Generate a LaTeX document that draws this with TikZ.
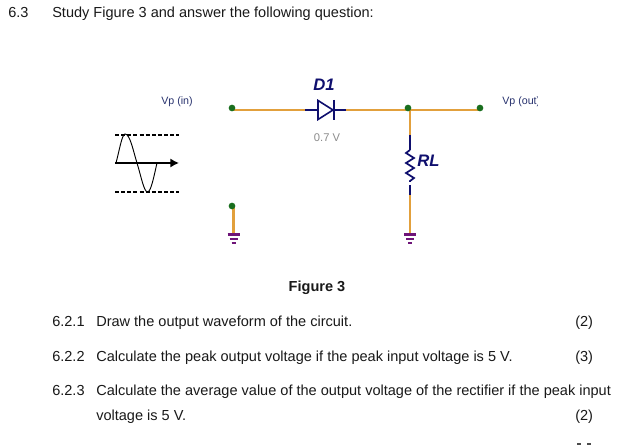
\documentclass[tikz,border=0pt]{standalone}
\usepackage{fontspec}
\setmainfont{Liberation Sans}
\usetikzlibrary{arrows.meta}
\definecolor{wirecol}{RGB}{226,160,60}
\definecolor{dotcol}{RGB}{25,110,30}
\definecolor{partcol}{RGB}{15,15,110}
\definecolor{gndcol}{RGB}{110,20,120}
\definecolor{labcol}{RGB}{40,50,110}
\tikzset{
  txt/.style={anchor=base west,inner sep=0pt,font=\fontsize{10.9pt}{12pt}\selectfont,text=black!90},
  smalllab/.style={inner sep=0pt,font=\fontsize{8pt}{10pt}\selectfont,text=labcol},
  partlab/.style={inner sep=0pt,font=\fontsize{12.5pt}{14pt}\selectfont\bfseries\itshape,text=partcol},
  wire/.style={draw=wirecol,line width=2.2pt},
  part/.style={draw=partcol,line width=1.8pt},
  termdot/.style={circle,fill=dotcol,inner sep=0pt,minimum size=5pt},
  gndbar/.style={draw=gndcol,line width=1.6pt},
  dashline/.style={draw=black,line width=1.2pt,dash pattern=on 3pt off 1.6pt}
}
\begin{document}
\begin{tikzpicture}[x=0.75pt,y=-0.75pt]
\useasboundingbox (0,0) rectangle (626,445);
\fill[white] (0,0) rectangle (626,445);
% text
\node[txt] (n63) at (8,17.5) {6.3};
\node[txt] (q) at (52,17.5) {Study Figure 3 and answer the following question:};
\node[txt,anchor=base,font=\fontsize{10.9pt}{12pt}\selectfont\bfseries] (fig) at (317,291.5) {Figure 3};
\node[txt] (a1) at (52,326.7) {6.2.1};
\node[txt] (t1) at (96,326.7) {Draw the output waveform of the circuit.};
\node[txt] (m1) at (575,326.7) {(2)};
\node[txt] (a2) at (52,361.5) {6.2.2};
\node[txt] (t2) at (96,361.5) {Calculate the peak output voltage if the peak input voltage is 5 V.};
\node[txt] (m2) at (575,361.5) {(3)};
\node[txt] (a3) at (52,395.5) {6.2.3};
\node[txt] (t3) at (96,395.5) {Calculate the average value of the output voltage of the rectifier if the peak input};
\node[txt] (t3b) at (96,420.5) {voltage is 5 V.};
\node[txt] (m3) at (575,420.5) {(2)};
% terminals
\coordinate (in) at (232,108);
\coordinate (j) at (408,108);
\coordinate (out) at (480,108);
\coordinate (g0) at (232,206);
\coordinate (da) at (305,110);
\coordinate (dc) at (346,110);
\coordinate (ra) at (410,135);
\coordinate (rb) at (410,195);
\coordinate (g1) at (233.5,233);
\coordinate (g2) at (410,233);
% wires
\draw[wire] (in |- da) -- (da);
\draw[wire] (dc) -- (out |- dc);
\draw[wire] (ra |- dc) -- (ra);
\draw[wire] (rb) -- (g2);
\draw[wire,line width=1.6pt] (g1 |- g0) -- (g1);
\node[termdot] (nin) at (in) {};
\node[termdot] (nj) at (j) {};
\node[termdot] (nout) at (out) {};
\node[termdot] (ng) at (g0) {};
% diode
\draw[part] (da) -- (318,110);
\draw[part,line width=1.2pt,fill=white] (318,100.5) -- (333,110) -- (318,119.5) -- cycle;
\draw[part,line width=2.2pt] (334,100) -- (334,120);
\draw[part] (334,110) -- (dc);
% resistor
\draw[part] (ra) -- (410,150);
\draw[part,line width=1.3pt] (410,150) -- (406,153) -- (414,158) -- (406,163) -- (414,168) -- (406,173) -- (414,178) -- (410,181) -- (410,182);
\draw[part] (410,185) -- (rb);
% grounds
\foreach \x in {233.5,410}{
  \draw[gndbar] (\x-6,234.5) -- (\x+6,234.5);
  \draw[gndbar,line width=2pt] (\x-4,239) -- (\x+4,239);
  \draw[gndbar] (\x-2,243) -- (\x+2,243);
}
% labels
\node[partlab] (d1) at (324,85) {D1};
\node[partlab] (rl) at (428.5,161) {RL};
\node[smalllab,text=black!45,font=\fontsize{8.4pt}{10pt}\selectfont] (v) at (327,138) {0.7 V};
\node[smalllab] (vin) at (177,102) {Vp (in)};
\begin{scope}
\clip (495,90) rectangle (537,115);
\node[smalllab,anchor=west] (vout) at (502,102) {Vp (out)};
\end{scope}
% waveform
\draw[dashline] (115,135) -- (179,135);
\draw[dashline] (115,192) -- (179,192);
\draw[black,line width=0.7pt] (116,163) .. controls (119,152) and (122,134) .. (125,134) .. controls (130,134) and (133,150) .. (137,163) .. controls (141,176) and (144,192) .. (147.5,192) .. controls (151,192) and (154,176) .. (157,163);
\coordinate (ws) at (115,163);
\coordinate (we) at (179,163);
\draw[line width=2pt,-{Latex[length=6.5pt,width=7pt]}] (ws) -- (we);
% clipped marks at the foot
\draw[black!70,line width=0.8pt] (577,444) -- (581,444) (587,444) -- (591,444);
\end{tikzpicture}
\end{document}
